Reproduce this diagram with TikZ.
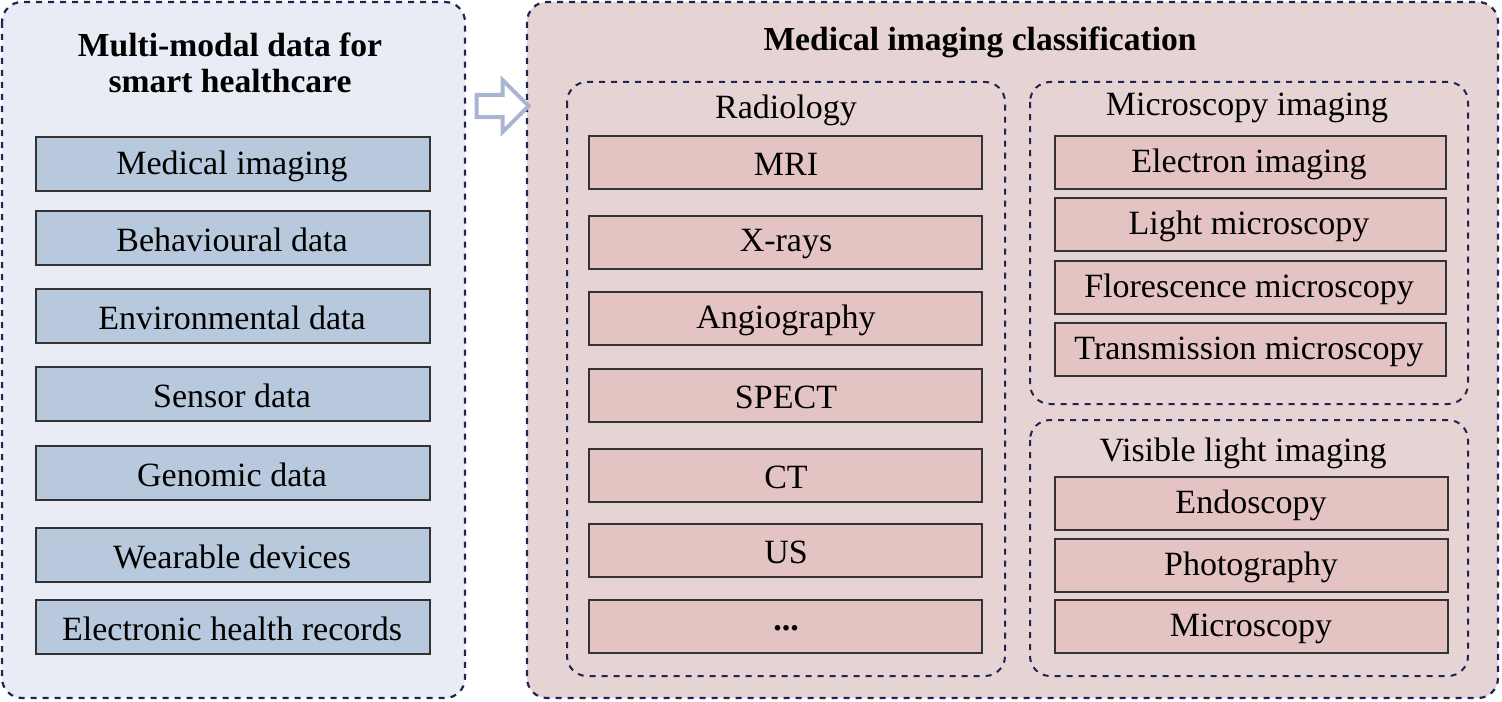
\documentclass[tikz,border=0pt]{standalone}
\usepackage{fontspec}
\setmainfont{Liberation Serif}
\usetikzlibrary{shapes.arrows}
\definecolor{lpanel}{HTML}{E9ECF5}
\definecolor{lbox}{HTML}{B8C9DD}
\definecolor{rpanel}{HTML}{E6D3D3}
\definecolor{rbox}{HTML}{E4C3C3}
\definecolor{dash}{HTML}{1F2550}
\definecolor{arrc}{HTML}{A8B4D0}
\begin{document}
\begin{tikzpicture}[x=0.5pt,y=-0.5pt,
 panel/.style={draw=dash,dashed,line width=1.1pt,rounded corners=10pt},
 grp/.style={draw=dash,dashed,line width=1pt,rounded corners=10pt},
 item/.style={draw=black!80,line width=0.8pt},
 txt/.style={font=\fontsize{17}{19}\selectfont,yshift=-1pt},
 ttl/.style={font=\fontsize{16.8}{18}\selectfont\bfseries,align=center}]
\useasboundingbox (0,0) rectangle (1502,701);
\draw[panel,fill=lpanel] (2,2) rectangle (465,698);
\draw[panel,fill=rpanel] (527,2) rectangle (1498,698);
\node[ttl] (lt) at (230,63) {Multi-modal data for\\smart healthcare};
\node[ttl] (rt) at (980,42) {Medical imaging classification};
% left boxes
\foreach \n/\a/\b/\t in {l1/137/191/Medical imaging,l2/211/265/Behavioural data,l3/289/343/Environmental data,l4/367/421/Sensor data,l5/446/500/Genomic data,l6/528/582/Wearable devices,l7/600/654/Electronic\ health records}{
 \draw[item,fill=lbox] (36,\a) rectangle (430,\b);
 \node[txt] (\n) at (232,{(\a+\b)/2}) {\t};
}
% arrow
\node[single arrow,draw=arrc,fill=white,line width=2pt,minimum height=26pt,minimum width=26pt,single arrow head extend=4pt,single arrow head indent=0pt,inner sep=2pt] (arr) at (497,106) {};
% groups
\draw[grp] (567,82) rectangle (1005,676);
\draw[grp] (1030,82) rectangle (1468,404);
\draw[grp] (1030,420) rectangle (1468,676);
\node[txt] (g1) at (786,108) {Radiology};
\node[txt] (g2) at (1247,106) {Microscopy imaging};
\node[txt] (g3) at (1243,451) {Visible light imaging};
\foreach \n/\a/\b/\t in {r1/136/189/MRI,r2/216/269/X-rays,r3/292/345/Angiography,r4/369/422/SPECT,r5/449/502/CT,r6/524/577/US,r7/600/653/\textbf{...}}{
 \draw[item,fill=rbox] (589,\a) rectangle (982,\b);
 \node[txt] (\n) at (786,{(\a+\b)/2}) {\t};
}
\foreach \n/\a/\b/\t in {m1/136/189/Electron imaging,m2/198/251/Light microscopy,m3/261/314/Florescence microscopy,m4/323/376/Transmission microscopy}{
 \draw[item,fill=rbox] (1055,\a) rectangle (1446,\b);
 \node[txt] (\n) at (1249,{(\a+\b)/2}) {\t};
}
\foreach \n/\a/\b/\t in {v1/477/530/Endoscopy,v2/539/592/Photography,v3/600/653/Microscopy}{
 \draw[item,fill=rbox] (1055,\a) rectangle (1448,\b);
 \node[txt] (\n) at (1251,{(\a+\b)/2}) {\t};
}
\end{tikzpicture}
\end{document}
